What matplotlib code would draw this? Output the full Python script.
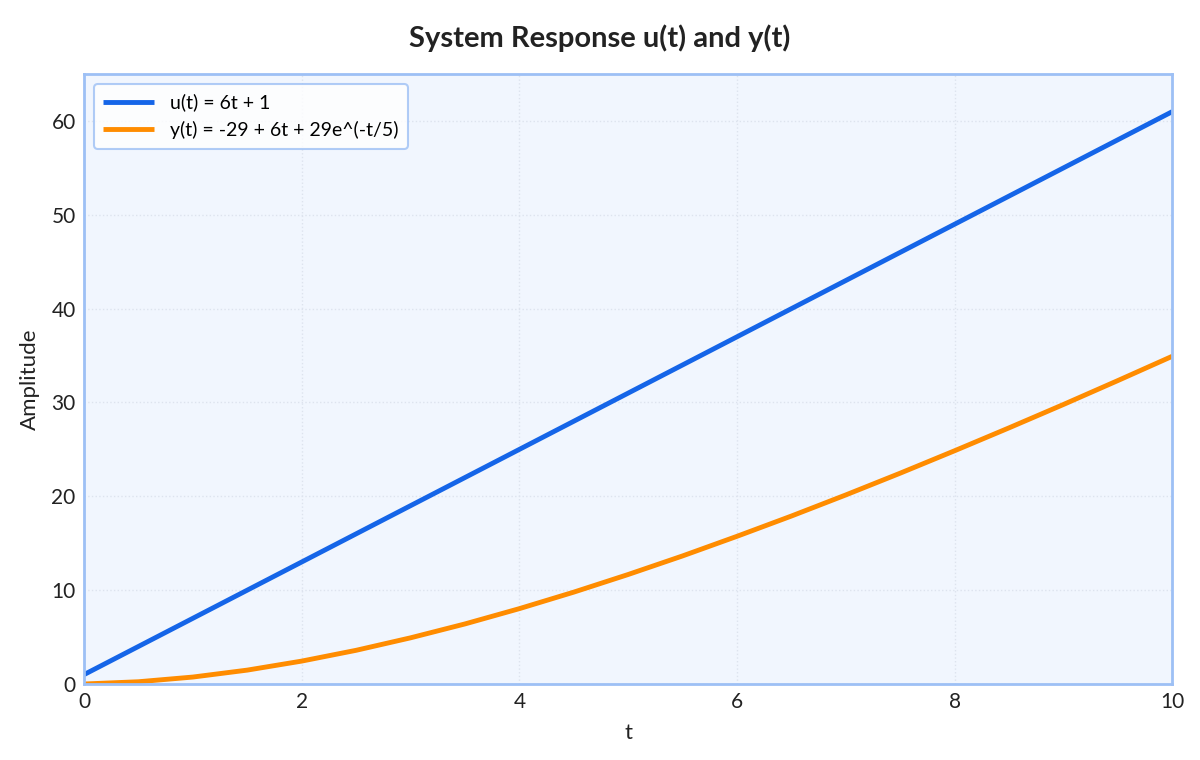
import matplotlib
matplotlib.use("Agg")
import matplotlib.pyplot as plt

# values
t_vals = [0, 0.5, 1, 1.5, 2, 2.5, 3, 3.5, 4, 4.5, 5, 5.5, 6, 6.5, 7, 7.5, 8, 8.5, 9, 9.5, 10]
u_vals = [1, 4, 7, 10, 13, 16, 19, 22, 25, 28, 31, 34, 37, 40, 43, 46, 49, 52, 55, 58, 61]
y_vals = [0, 0.24, 0.74, 1.48, 2.44, 3.59, 4.92, 6.40, 8.03, 9.79, 11.67, 13.65, 15.74,
          17.90, 20.15, 22.47, 24.86, 27.30, 29.79, 32.34, 34.93]
x_ticks = [0, 2, 4, 6, 8, 10]
y_ticks = [0, 10, 20, 30, 40, 50, 60]
labels = ["u(t) = 6t + 1", "y(t) = -29 + 6t + 29e^(-t/5)"]

plt.rcParams["font.family"] = ["Lato", "DejaVu Sans"]

fig = plt.figure(figsize=(12, 7.6), dpi=100)
ax = fig.add_axes([0.07, 0.1, 0.907, 0.8026])
ax.set_facecolor("#f1f6fe")

ax.plot(t_vals, u_vals, color="#1565e8", lw=3.5, label=labels[0], solid_capstyle="butt")
ax.plot(t_vals, y_vals, color="#ff8c00", lw=3.5, label=labels[1], solid_capstyle="butt")

ax.set_xlim(0, 10)
ax.set_ylim(0, 65)
ax.set_xticks(x_ticks)
ax.set_yticks(y_ticks)
ax.tick_params(length=0, labelsize=15, colors="#222222", pad=6)
ax.grid(True, linestyle=":", color="#dde3ee", lw=1)
for s in ax.spines.values():
    s.set_color("#9dc0f5")
    s.set_linewidth(2)

ax.set_xlabel("t", fontsize=16, color="#222222", labelpad=8)
ax.set_ylabel("Amplitude", fontsize=16, color="#222222", labelpad=8)
fig.suptitle("System Response u(t) and y(t)", fontsize=21, fontweight="bold",
             color="#222222", y=0.968)

leg = ax.legend(loc="upper left", fontsize=14, frameon=True, fancybox=True,
                handlelength=2.6, borderpad=0.5)
leg.get_frame().set_edgecolor("#9dc0f5")
leg.get_frame().set_linewidth(1.5)
leg.get_frame().set_facecolor("white")

fig.savefig("out.png", dpi=100)
